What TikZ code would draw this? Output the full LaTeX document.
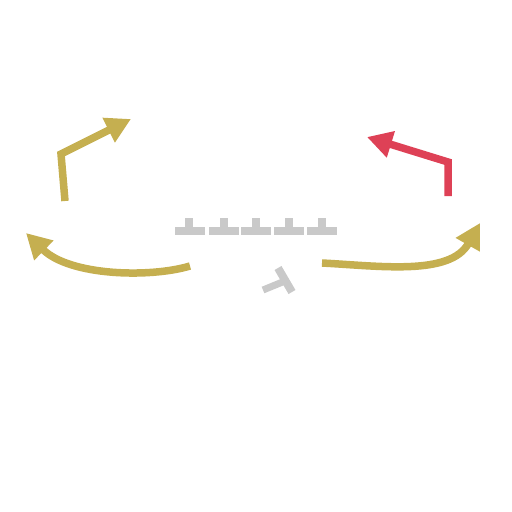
\documentclass[tikz,border=0pt]{standalone}
\usetikzlibrary{arrows.meta}
\definecolor{gold}{HTML}{C5AF50}
\definecolor{redc}{HTML}{DE4156}
\definecolor{grayc}{HTML}{C9C9C9}
\begin{document}
\begin{tikzpicture}[x=1pt,y=-1pt,
  arr/.style={line width=7.5pt,-{Triangle[length=25pt,width=26pt]}},
  tee/.style={fill=grayc,draw=none}]
\useasboundingbox (0,0) rectangle (512,512);
% named coordinates
\coordinate (a1s) at (65,201);
\coordinate (a1c) at (61,154);
\coordinate (a1t) at (131,119);
\coordinate (a2s) at (190,266);
\coordinate (a2t) at (26,233);
\coordinate (a3s) at (322,263);
\coordinate (a3t) at (480,223);
\coordinate (a4s) at (448,196);
\coordinate (a4c) at (448,162);
\coordinate (a4t) at (367,137);
% arrows
\draw[arr,gold,line join=miter] (a1s) -- (a1c) -- (a1t);
\draw[arr,gold] (a2s) .. controls (150,278) and (70,276) .. (a2t);
\draw[arr,gold] (a3s) .. controls (380,266) and (450,276) .. (a3t);
\draw[arr,redc,line join=miter] (a4s) -- (a4c) -- (a4t);
% gray T shapes
\foreach \bx/\sx in {175/185,209/220,241/252,274/285,307/318}{
  \fill[tee] (\bx,227) rectangle ++(30,8);
  \fill[tee] (\sx,218) rectangle ++(8,9.5);
}
% rotated T
\draw[grayc,line width=8pt] (278,268) -- (292,292);
\draw[grayc,line width=7pt] (285,281) -- (263,290);
\end{tikzpicture}
\end{document}
